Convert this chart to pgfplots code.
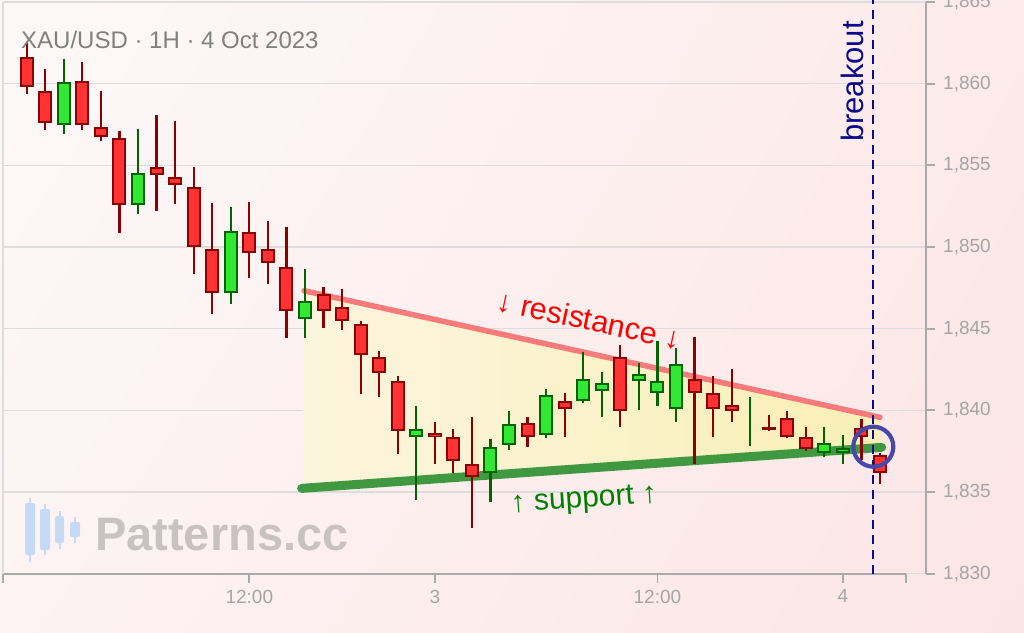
\documentclass[border=0pt]{standalone}
\usepackage{fontspec}
\setmainfont{Liberation Sans}
\usepackage{pgfplots}
\pgfplotsset{compat=1.18}
\usepackage{pgfplotstable}
\usetikzlibrary{shadings}
\definecolor{bgUL}{RGB}{253,249,249}
\definecolor{bgUR}{RGB}{253,234,234}
\definecolor{bgLL}{RGB}{253,243,243}
\definecolor{bgLR}{RGB}{252,229,229}
\definecolor{axisgray}{RGB}{170,170,170}
\definecolor{gridgray}{RGB}{222,220,220}
\definecolor{tickgray}{RGB}{165,165,165}
\definecolor{titlegray}{RGB}{128,128,128}
\definecolor{candred}{RGB}{255,51,51}
\definecolor{dkred}{RGB}{139,0,0}
\definecolor{candgreen}{RGB}{51,232,51}
\definecolor{dkgreen}{RGB}{0,100,0}
\definecolor{resc}{RGB}{248,122,122}
\definecolor{supc}{RGB}{64,152,64}
\definecolor{navyc}{RGB}{10,10,140}
\definecolor{circc}{RGB}{72,72,168}
\definecolor{wmgray}{RGB}{202,194,194}
\definecolor{iconblue}{RGB}{198,218,246}
\definecolor{triL}{RGB}{252,245,222}
\definecolor{triR}{RGB}{249,239,182}

\pgfplotstableread{
x o h l c
0 1861.65 1862.47 1859.35 1859.78
1 1859.57 1860.88 1857.16 1857.57
3 1860.18 1861.35 1857.16 1857.47
4 1857.37 1859.55 1856.51 1856.72
5 1856.66 1857.10 1850.86 1852.57
7 1854.92 1858.08 1852.22 1854.41
8 1854.30 1857.73 1852.61 1853.80
9 1853.69 1854.88 1848.33 1849.98
10 1849.90 1852.68 1845.88 1847.16
12 1850.90 1852.77 1848.08 1849.61
13 1849.90 1851.59 1847.72 1849.00
14 1848.79 1851.21 1844.41 1846.08
16 1847.10 1847.53 1845.02 1846.08
17 1846.34 1847.41 1844.92 1845.47
18 1845.28 1845.47 1840.98 1843.39
19 1843.28 1843.63 1840.83 1842.30
20 1841.81 1842.12 1837.31 1838.73
22 1838.63 1839.30 1836.69 1838.38
23 1838.38 1838.84 1836.18 1836.90
24 1836.69 1839.57 1832.77 1835.93
27 1839.24 1839.61 1837.77 1838.38
29 1840.59 1841.04 1838.38 1840.08
32 1843.28 1844.00 1839.00 1839.98
36 1841.92 1844.47 1836.69 1841.08
37 1841.08 1842.12 1838.38 1840.08
38 1840.32 1842.51 1839.27 1839.98
40 1839.00 1839.71 1838.75 1838.82
41 1839.51 1839.96 1838.29 1838.35
42 1838.38 1838.96 1837.53 1837.61
45 1838.90 1839.45 1836.96 1838.35
46 1837.26 1837.37 1835.49 1836.18
}\redtbl

\pgfplotstableread{
x o h l c
2 1857.47 1861.49 1856.92 1860.09
6 1852.57 1857.23 1852.00 1854.55
11 1847.16 1852.43 1846.49 1851.00
15 1845.59 1848.65 1844.41 1846.71
21 1838.38 1840.28 1834.51 1838.85
25 1836.18 1838.22 1834.40 1837.77
26 1837.87 1839.96 1837.57 1839.14
28 1838.49 1841.29 1838.29 1840.94
30 1840.57 1843.59 1840.47 1841.92
31 1841.18 1842.36 1839.61 1841.69
33 1841.79 1842.88 1840.02 1842.20
34 1841.08 1844.24 1840.26 1841.81
35 1840.08 1843.83 1839.30 1842.82
39 1839.50 1840.80 1837.81 1839.50
43 1837.40 1838.96 1837.16 1838.02
44 1837.40 1838.49 1836.71 1837.67
}\greentbl

\begin{document}
\begin{tikzpicture}[x=1pt,y=1pt]
\shade[upper left=bgUL, upper right=bgUR, lower left=bgLL, lower right=bgLR] (0,0) rectangle (1024,632);

% watermark icon and text
\draw[iconblue, line width=2pt] (30,70) -- (30,134);
\fill[iconblue, rounded corners=2pt] (25,77) rectangle (35,129);
\draw[iconblue, line width=2pt] (45,77) -- (45,128);
\fill[iconblue, rounded corners=2pt] (40,82) rectangle (50,123);
\draw[iconblue, line width=2pt] (59.5,83) -- (59.5,121);
\fill[iconblue, rounded corners=2pt] (55,89) rectangle (64,116);
\draw[iconblue, line width=2pt] (75,89) -- (75,115);
\fill[iconblue, rounded corners=2pt] (70,95) rectangle (80,110);
\node[anchor=base west, inner sep=0pt, text=wmgray, font=\bfseries\fontsize{47}{50}\selectfont] at (95,82) {Patterns.cc};

\begin{axis}[
  at={(3pt,58.4pt)}, anchor=south west, scale only axis,
  width=923pt, height=571.6pt,
  xmin=-1.28, xmax=48.48, ymin=1830, ymax=1865,
  clip=false,
  axis x line*=bottom, axis y line*=right,
  x axis line style={draw=none},
  y axis line style={draw=axisgray, line width=2pt},
  ytick={1830,1835,...,1865},
  ymajorgrids, grid style={draw=gridgray, line width=1.3pt},
  xtick={12,22,34,44}, xticklabels={12:00,3,12:00,4},
  extra x ticks={-1.28,47.4}, extra x tick labels={},
  tick align=outside, major tick length=9pt,
  tick style={draw=axisgray, line width=1.8pt},
  /pgf/number format/1000 sep={,},
  /pgf/number format/assume math mode=true,
  tick label style={font=\fontsize{19}{22}\selectfont, text=tickgray},
  yticklabel style={inner sep=0pt, anchor=west, xshift=8pt},
  xticklabel style={inner sep=0pt, anchor=north, yshift=-7pt},
]
\draw[axisgray, line width=2pt] (axis cs:-1.28,1830) -- (axis cs:47.4,1830);
\draw[gridgray, line width=1.3pt] (axis cs:-1.28,1830) -- (axis cs:-1.28,1865);

% triangle area
\addplot[draw=none, left color=triL, right color=triR, forget plot]
  coordinates {(14.95,1847.32) (46,1839.57) (46.05,1837.73) (14.9,1835.22)} -- cycle;
% resistance and support
\addplot[resc, line width=5.5pt, line cap=round, forget plot] coordinates {(14.95,1847.32) (46,1839.57)};
\addplot[supc, line width=9pt, line cap=round, forget plot] coordinates {(14.82,1835.22) (46.09,1837.73)};

% wicks
\addplot[draw=none, mark=none, forget plot,
  error bars/.cd, y dir=plus, y explicit, error mark=none,
  error bar style={draw=dkred, solid, line width=2.2pt}]
  table[x=x, y=l, y error expr=\thisrow{h}-\thisrow{l}] {\redtbl};
\addplot[draw=none, mark=none, forget plot,
  error bars/.cd, y dir=plus, y explicit, error mark=none,
  error bar style={draw=dkgreen, solid, line width=2.2pt}]
  table[x=x, y=l, y error expr=\thisrow{h}-\thisrow{l}] {\greentbl};
% bodies: outline
\addplot[draw=none, mark=none, forget plot,
  error bars/.cd, y dir=plus, y explicit, error mark=none,
  error bar style={draw=dkred, solid, line width=14pt}]
  table[x=x, y=c, y error expr=\thisrow{o}-\thisrow{c}] {\redtbl};
\addplot[draw=none, mark=none, forget plot,
  error bars/.cd, y dir=plus, y explicit, error mark=none,
  error bar style={draw=dkgreen, solid, line width=14pt}]
  table[x=x, y=o, y error expr=\thisrow{c}-\thisrow{o}] {\greentbl};
% bodies: fill
\addplot[draw=none, mark=none, forget plot,
  error bars/.cd, y dir=plus, y explicit, error mark=none,
  error bar style={draw=candred, solid, line width=10pt}]
  table[x=x, y expr=\thisrow{c}+0.12, y error expr={max(\thisrow{o}-\thisrow{c}-0.24,0)}] {\redtbl};
\addplot[draw=none, mark=none, forget plot,
  error bars/.cd, y dir=plus, y explicit, error mark=none,
  error bar style={draw=candgreen, solid, line width=10pt}]
  table[x=x, y expr=\thisrow{o}+0.12, y error expr={max(\thisrow{c}-\thisrow{o}-0.24,0)}] {\greentbl};

% breakout line and circle
\addplot[navyc, line width=2.2pt, dash pattern=on 9pt off 6pt, forget plot] coordinates {(45.64,1830) (45.64,1865.12)};
\addplot[only marks, mark=o, mark size=20pt, mark options={draw=circc, line width=4.2pt}, forget plot] coordinates {(45.64,1837.77)};
\end{axis}

% texts
\node[anchor=base west, inner sep=0pt, text=titlegray, font=\fontsize{24}{28}\selectfont] at (21,583) {XAU/USD · 1H · 4 Oct 2023};
\node[anchor=base east, inner sep=0pt, rotate=90, text=navyc, font=\fontsize{31}{34}\selectfont] at (863,611) {breakout};
\node[anchor=base, inner sep=0pt, rotate=-12.2, text=red, font=\fontsize{30.5}{33}\selectfont] at (587,302) {↓ resistance ↓};
\node[anchor=base, inner sep=0pt, rotate=3.8, text=green!50!black, font=\fontsize{30}{33}\selectfont] at (584.5,124.6) {↑ support ↑};

\pgfresetboundingbox
\useasboundingbox (0,0) rectangle (1024,632);
\end{tikzpicture}
\end{document}
